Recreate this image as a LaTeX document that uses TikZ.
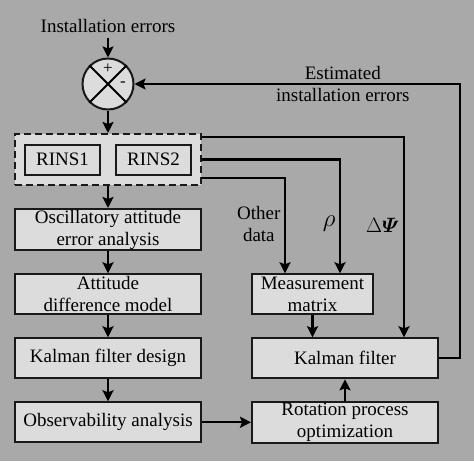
\documentclass[tikz,border=0pt]{standalone}
\usepackage{amsmath,amssymb}
\usepackage{fontspec}
\setmainfont{Liberation Serif}
\usetikzlibrary{arrows, arrows.meta, positioning}

\definecolor{bggray}{HTML}{A9A9A9}
\definecolor{boxgray}{HTML}{DCDCDC}

\begin{document}
\begin{tikzpicture}[
            x = 1pt, y = -1pt, % pixel-like units
            > = {Stealth[length=11pt, width=11pt, inset=2pt]}, % arrow head style
            node distance = 22pt, % distance between boxes
            line width = 2.4pt, % line style
            font = \fontsize{19}{22}\selectfont
        ]

        \tikzstyle{block}=[
            draw = black!90,
            line width = 2pt,
            fill = boxgray,
            minimum width = 186pt,
            minimum height = 40pt,
            inner sep = 1pt,
            align = center
        ]
        \tikzstyle{rinsbox}=[block, minimum width = 75pt, minimum height = 30pt]
        \tikzstyle{dashbox}=[block, dash pattern = on 7pt off 4pt, minimum height = 51pt]
        \tikzstyle{sumnode}=[draw = black!90, line width = 2pt, fill = boxgray, circle, minimum size = 51pt, inner sep = 0pt]

        % background
        \fill[bggray] (0,0) rectangle (474,461);

        \node[sumnode] (sum) at (108,84) {};
        \draw[line width = 2pt] (sum.north west) -- (sum.south east);
        \draw[line width = 2pt] (sum.north east) -- (sum.south west);
        \node[font = \fontsize{17}{17}\selectfont] (plus) at ([yshift=15pt]sum.center) {+};
        \node[font = \fontsize{17}{17}\selectfont] (minus) at ([xshift=15pt]sum.center) {-};
        \node (inst) [above=20pt of sum] {Installation errors};

        \node[dashbox] (rins) [below=22.5pt of sum] {};
        \node[rinsbox] (rins1) at ([xshift=-45.5pt]rins.center) {RINS1};
        \node[rinsbox] (rins2) at ([xshift=45.5pt]rins.center) {RINS2};

        \node[block] (osc) [below=of rins] {Oscillatory attitude\\error analysis};
        \node[block] (att) [below=of osc] {Attitude\\difference model};
        \node[block] (kfd) [below=of att] {Kalman filter design};
        \node[block] (obs) [below=of kfd] {Observability analysis};
        \node[block] (rot) [right=49pt of obs] {Rotation process\\optimization};
        \node[block] (kf) [right=49pt of kfd] {Kalman filter};
        \node[block, minimum width = 121pt] (meas) [above=of kf.north west, anchor=south west] {Measurement\\matrix};

        \path[->] (inst) edge (sum);
        \path[->] (sum) edge (rins);
        \path[->] (rins) edge (osc);
        \path[->] (osc) edge (att);
        \path[->] (att) edge (kfd);
        \path[->] (kfd) edge (obs);
        \path[->] (obs) edge (rot);
        \path[->] (rot) edge (kf);
        \draw[->] (meas) -- (meas |- kf.north);

        \draw[->] ([yshift=-4pt]rins.north east) -| ([xshift=-35pt]kf.north east)
            node[pos=0.72, left, font = \fontsize{21}{21}\selectfont] {$\Delta\boldsymbol{\varPsi}$};
        \draw[->] (rins.east) -| ([xshift=-34pt]meas.north east)
            node[pos=0.78, left, font = \fontsize{25}{25}\selectfont] {$\rho$};
        \draw[->] ([yshift=8pt]rins.south east) -| ([xshift=34pt]meas.north west)
            node[pos=0.74, left, align=center] {Other\\data};

        \draw[->] (kf.east) -- ++(21pt,0) |- (sum.east)
            node[pos=0.68, above] {Estimated}
            node[pos=0.68, below] {installation errors};

    \end{tikzpicture}
\end{document}
